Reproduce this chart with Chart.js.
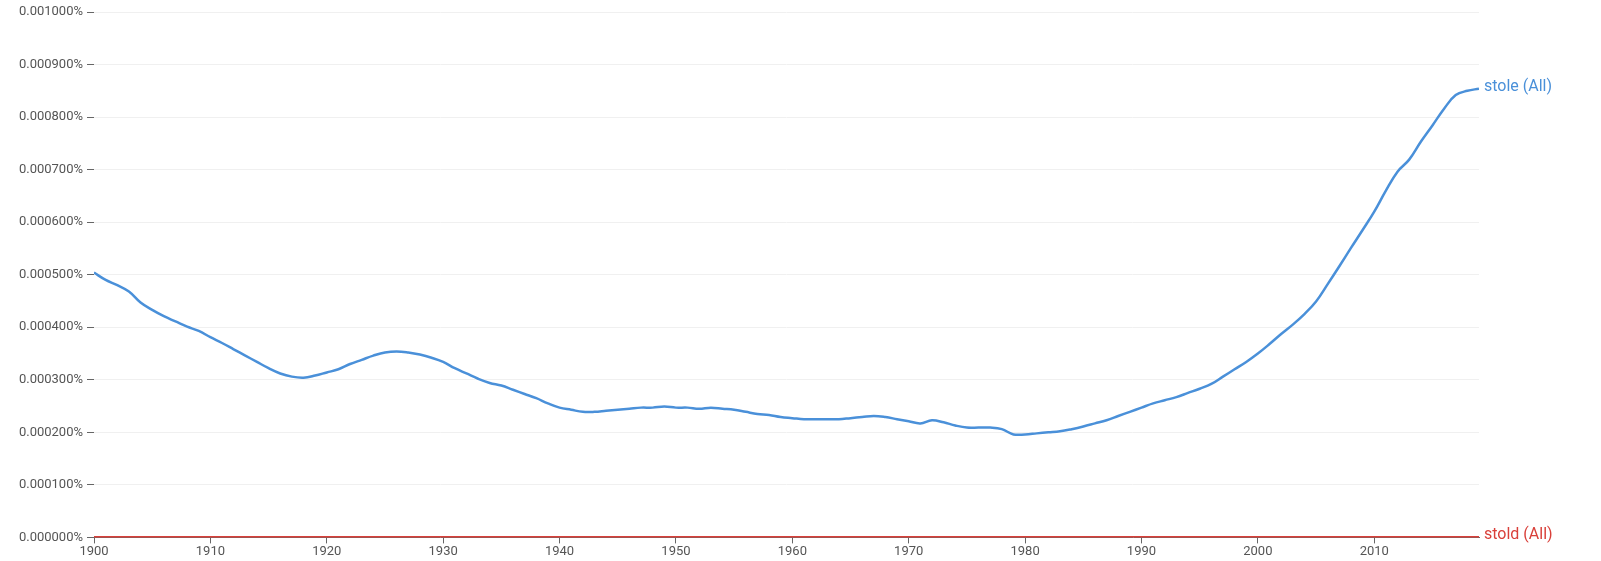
<!DOCTYPE html>
<html>
<head>
<meta charset="utf-8">
<script src="https://cdn.jsdelivr.net/npm/chart.js@4.4.0/dist/chart.umd.min.js"></script>
<style>
  html, body { margin: 0; padding: 0; background: #fff; overflow: hidden; }
  canvas { display: block; }
</style>
</head>
<body>
<canvas id="ngram" width="1601" height="561"></canvas>
<script>
// values are in millionths of a percent (504 -> 0.000504%)
const startYear = 1900;
const stole = [
  504, 490, 480, 468, 447, 433, 421, 411, 401, 393,
  381, 370, 358, 346, 334, 322, 312, 306, 304, 308,
  314, 320, 330, 338, 346, 352, 354, 352, 348, 342,
  334, 322, 312, 302, 294, 289, 281, 273, 265, 255,
  247, 243, 239, 239, 241, 243, 245, 247, 247, 249,
  247, 247, 245, 247, 245, 243, 239, 235, 233, 229,
  227, 225, 225, 225, 225, 227, 229, 231, 229, 225,
  221, 217, 223, 219, 213, 209, 209, 209, 206, 196,
  196, 198, 200, 202, 206, 211, 217, 223, 231, 239,
  247, 255, 261, 267, 275, 283, 292, 306, 320, 334,
  350, 368, 387, 405, 425, 449, 482, 516, 551, 585,
  620, 660, 696, 719, 753, 784, 816, 842, 850, 854
];
const stold = stole.map(() => 0.3);
const seriesNames = ['stole (All)', 'stold (All)'];
const seriesColors = ['#4a90d9', '#d9403a'];
const yTicks = [0, 100, 200, 300, 400, 500, 600, 700, 800, 900, 1000];

const years = stole.map((v, i) => startYear + i);

const endLabels = {
  id: 'endLabels',
  afterDatasetsDraw(chart) {
    const ctx = chart.ctx;
    ctx.save();
    ctx.font = '16px Roboto';
    ctx.textBaseline = 'middle';
    chart.data.datasets.forEach((ds, i) => {
      const meta = chart.getDatasetMeta(i);
      const pt = meta.data[meta.data.length - 1];
      ctx.fillStyle = ds.borderColor;
      ctx.fillText(ds.label, pt.x + 5, pt.y - 2);
    });
    ctx.restore();
  }
};

new Chart(document.getElementById('ngram'), {
  type: 'line',
  data: {
    datasets: [
      { label: seriesNames[0], data: years.map((y, i) => ({ x: y, y: stole[i] })),
        borderColor: seriesColors[0], borderWidth: 2.5, pointRadius: 0, tension: 0.4 },
      { label: seriesNames[1], data: years.map((y, i) => ({ x: y, y: stold[i] })),
        borderColor: seriesColors[1], borderWidth: 2.5, pointRadius: 0, tension: 0 }
    ]
  },
  options: {
    responsive: false,
    animation: false,
    devicePixelRatio: 1,
    layout: { padding: { top: 12, right: 122, left: 0, bottom: 0 } },
    plugins: { legend: { display: false }, tooltip: { enabled: false } },
    scales: {
      x: {
        type: 'linear', min: 1900, max: 2019,
        afterBuildTicks(axis) {
          axis.ticks = years.filter(y => y % 10 === 0).map(y => ({ value: y }));
        },
        grid: { drawOnChartArea: false, tickLength: 6, tickColor: '#666' },
        border: { color: '#666', width: 1 },
        ticks: { color: '#555', font: { family: 'Roboto', size: 13 }, callback: v => String(v), maxRotation: 0, padding: 1 }
      },
      y: {
        min: 0, max: 1000,
        afterBuildTicks(axis) { axis.ticks = yTicks.map(v => ({ value: v })); },
        afterFit(axis) { axis.width = 94; },
        grid: { color: '#f0f0f0', tickLength: 7, tickColor: '#666' },
        border: { display: false },
        ticks: { color: '#555', font: { family: 'Roboto', size: 13 }, padding: 4,
          callback: v => (v / 1e6).toFixed(6) + '%' }
      }
    }
  },
  plugins: [endLabels]
});
</script>
</body>
</html>
